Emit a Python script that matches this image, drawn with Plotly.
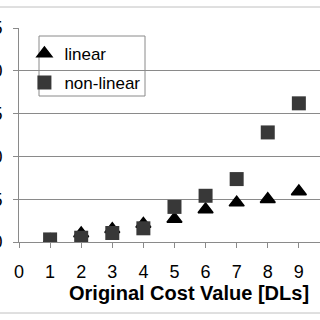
import plotly.graph_objects as go

x_vals = [1, 2, 3, 4, 5, 6, 7, 8, 9]
linear = [0.2, 1.0, 1.5, 2.1, 2.7, 3.8, 4.6, 5.0, 5.9]
non_linear = [0.3, 0.5, 1.05, 1.6, 4.1, 5.4, 7.35, 12.8, 16.2]
x_ticks = [0, 1, 2, 3, 4, 5, 6, 7, 8, 9, 10]
y_ticks = [0, 5, 10, 15, 20, 25]
x_title = "Original Cost Value [DLs]"

FONT = "Liberation Sans, Arial, sans-serif"

fig = go.Figure()
fig.add_trace(go.Scatter(
    x=x_vals, y=linear, mode="markers", name="linear", legendgroup="a",
    marker=dict(symbol="triangle-up", size=13, color="#000000",
                line=dict(color="#000000", width=1.5)),
))
fig.add_trace(go.Scatter(
    x=x_vals, y=non_linear, mode="markers", name="non-linear", legendgroup="b",
    marker=dict(symbol="square", size=14, color="#383838",
                line=dict(width=0)),
))

fig.update_layout(
    width=320, height=320,
    margin=dict(l=19, r=0, t=28, b=78, autoexpand=False),
    paper_bgcolor="white", plot_bgcolor="white",
    font=dict(family=FONT, color="#000000", size=18),
    showlegend=True,
    legend=dict(
        x=0.018, y=0.963, xanchor="left", yanchor="top",
        bgcolor="rgba(0,0,0,0)", borderwidth=0,
        font=dict(size=17, family=FONT),
        traceorder="grouped", tracegroupgap=4,
    ),
    xaxis=dict(
        range=[0, 9.68], tickmode="array", tickvals=x_ticks,
        ticktext=[str(v) for v in x_ticks],
        showgrid=False, zeroline=False, automargin=False,
        showline=True, linecolor="#8a8a8a", linewidth=1,
        ticks="outside", ticklen=5, tickcolor="#8a8a8a",
        ticklabelstandoff=8,
        tickfont=dict(size=18),
    ),
    yaxis=dict(
        range=[0, 25], tickmode="array", tickvals=y_ticks,
        ticktext=[str(v) for v in y_ticks],
        showgrid=True, gridcolor="#8a8a8a", gridwidth=1,
        zeroline=False, automargin=False,
        showline=True, linecolor="#8a8a8a", linewidth=1,
        ticks="outside", ticklen=5, tickcolor="#8a8a8a",
        ticklabelstandoff=7,
        tickfont=dict(size=18),
    ),
    annotations=[dict(
        text="<b>" + x_title + "</b>", xref="x", yref="paper",
        x=5.47, y=-0.238, xanchor="center", yanchor="middle",
        showarrow=False, font=dict(size=20, family=FONT),
    )],
    shapes=[
        dict(type="rect", xref="paper", yref="paper",
             x0=20 / 301, x1=126 / 301, y0=(242 - 96) / 214, y1=(242 - 36) / 214,
             line=dict(color="#8a8a8a", width=1), fillcolor="white", layer="below"),
        dict(type="line", xref="paper", yref="paper",
             x0=-0.2, x1=1.2, y0=(242 - 7) / 214, y1=(242 - 7) / 214,
             line=dict(color="#c0c0c0", width=1)),
        dict(type="line", xref="paper", yref="paper",
             x0=-0.2, x1=1.2, y0=(242 - 313) / 214, y1=(242 - 313) / 214,
             line=dict(color="#c0c0c0", width=1)),
    ],
)

fig.write_html("out.html")
